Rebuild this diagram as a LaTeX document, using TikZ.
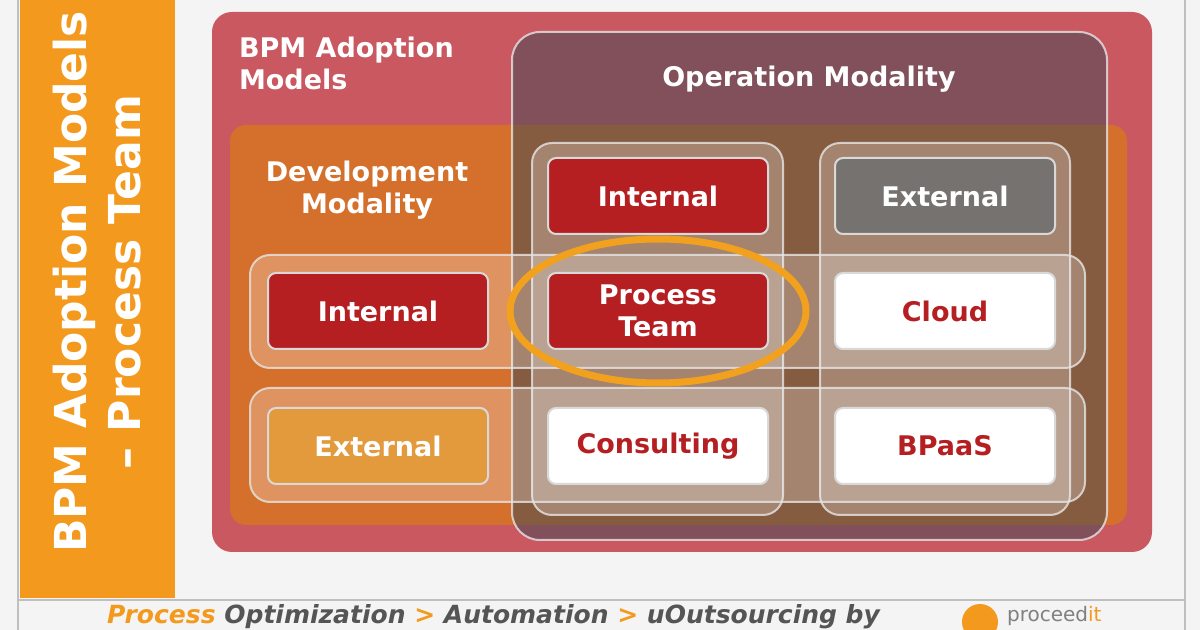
\documentclass[tikz,border=0pt]{standalone}
\usepackage{fontspec}
\setmainfont{DejaVu Sans}
\usetikzlibrary{positioning}
\definecolor{bgray}{HTML}{F4F4F4}
\definecolor{barorange}{HTML}{F39A1E}
\definecolor{bigred}{HTML}{C95860}
\definecolor{devorange}{HTML}{D4702C}
\definecolor{opshade}{HTML}{3A4A55}
\definecolor{btnred}{HTML}{B51F22}
\definecolor{btngray}{HTML}{76726F}
\definecolor{btnorange}{HTML}{E29A3C}
\definecolor{ringorange}{HTML}{F2A11E}
\definecolor{txtgray}{HTML}{555555}
\tikzset{
  btn/.style={rounded corners=4pt, minimum width=110pt, minimum height=38pt,
    font=\fontsize{13.5}{15}\bfseries, align=center, draw=white!70!gray, line width=1pt},
  redbtn/.style={btn, fill=btnred, text=white},
  whitebtn/.style={btn, fill=white, text=btnred},
  band/.style={rounded corners=10pt, fill=white, fill opacity=.25, draw=white!80!gray, draw opacity=.8, line width=1pt},
  ttl/.style={font=\fontsize{13.5}{16}\bfseries, text=white, align=center}
}
\begin{document}
\begin{tikzpicture}[x=0.5pt, y=-0.5pt]
\useasboundingbox (0,0) rectangle (1200,630);
\clip (0,0) rectangle (1200,630);
\fill[bgray] (0,0) rectangle (1200,630);
\draw[gray!50, line width=1pt] (18,0) -- (18,630) (1185,0) -- (1185,630) (18,600) -- (1185,600);
% side bar
\fill[barorange] (20,0) rectangle (175,598);
\node[rotate=90, font=\fontsize{22}{27}\bfseries, text=white, align=center] (title) at (97,282) {BPM Adoption Models\\ -- Process Team};
% main boxes
\fill[bigred, rounded corners=10pt] (212,12) rectangle (1152,552);
\node[ttl, align=left, anchor=north west] (bpm) at (232,30) {BPM Adoption\\Models};
\fill[devorange, rounded corners=8pt] (230,125) rectangle (1127,525);
\node[ttl] (dev) at (367,190) {Development\\Modality};
\filldraw[fill=opshade, fill opacity=.5, draw=white!80!gray, draw opacity=.8, line width=1pt, rounded corners=14pt] (512,32) rectangle (1107,540);
\node[ttl] (op) at (809,79) {Operation Modality};
% columns and rows
\draw[band] (532,143) rectangle (783,515);
\draw[band] (820,143) rectangle (1070,515);
\draw[band] (250,255) rectangle (1085,368);
\draw[band] (250,388) rectangle (1085,502);
% buttons
\node[redbtn] (opint) at (658,196) {Internal};
\node[btn, fill=btngray, text=white] (opext) at (945,196) {External};
\node[redbtn] (devint) at (378,311) {Internal};
\node[redbtn, font=\fontsize{13.5}{16}\bfseries] (team) at (658,311) {Process\\Team};
\node[whitebtn] (cloud) at (945,311) {Cloud};
\node[btn, fill=btnorange, text=white] (devext) at (378,446) {External};
\node[whitebtn] (consult) at (658,446) {Consulting};
\node[whitebtn] (bpaas) at (945,446) {BPaaS};
\draw[ringorange, line width=3.5pt] (team.center) ellipse [x radius=148, y radius=72];
% footer
\node[anchor=west, font=\fontsize{12.5}{14}\bfseries\itshape, text=txtgray] (slogan) at (100,617)
  {\textcolor{barorange}{Process} Optimization \textcolor{barorange}{>} Automation \textcolor{barorange}{>} uOutsourcing by};
\fill[barorange] (980,622) circle (9pt);
\node[anchor=west, font=\fontsize{15}{17}, text=gray] (logo) at (1000,616) {proceed\textcolor{barorange}{it}};
\end{tikzpicture}
\end{document}
